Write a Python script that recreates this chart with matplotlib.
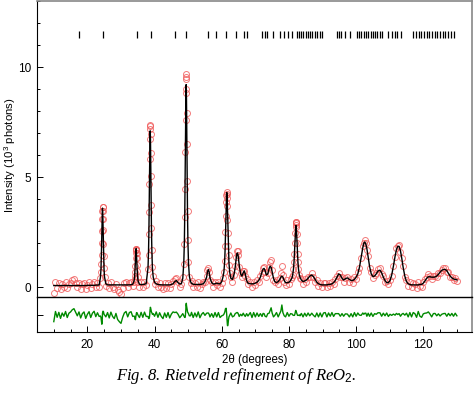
import matplotlib
matplotlib.use("Agg")
import matplotlib.pyplot as plt
import numpy as np

plt.rcParams['font.family'] = ['Liberation Sans', 'DejaVu Sans']
plt.rcParams['mathtext.fontset'] = 'custom'
plt.rcParams['mathtext.rm'] = 'Liberation Sans'
plt.rcParams['mathtext.it'] = 'Liberation Serif:italic'

# 2theta grid with observed / calculated intensity (10^3 photons), read off the figure
# each line of the three lists covers the same stretch of the pattern
two_theta = [
    10.0, 10.5, 11.0, 11.5, 12.0, 12.5, 13.0, 13.5, 14.0, 14.5, 15.0, 15.5, 16.0, 16.5,
    17.0, 17.5, 18.0, 18.5, 19.0, 19.5, 20.0, 20.5, 21.0, 21.5, 22.0, 22.5, 23.0, 23.5,
    23.9, 24.05, 24.15, 24.22, 24.3, 24.36, 24.42, 24.46, 24.5, 24.54, 24.58, 24.64, 24.7, 24.78, 24.85, 24.95, 25.1, 25.5,
    26.0, 26.5, 27.0, 27.5, 28.0, 28.5, 29.0, 29.5, 30.0, 30.5, 31.0, 31.5, 32.0, 32.5, 33.0, 33.5,
    33.9, 34.05, 34.15, 34.22, 34.3, 34.36, 34.42, 34.46, 34.5, 34.54, 34.58, 34.64, 34.7, 34.78, 34.85, 34.95, 35.1, 35.5,
    36.0, 36.5, 37.0, 37.5,
    38.05, 38.2, 38.32, 38.4, 38.48, 38.55, 38.61, 38.66, 38.7, 38.74, 38.79, 38.85, 38.92, 39.0, 39.08, 39.2, 39.35, 39.6, 40.0,
    40.5, 41.0, 41.5, 42.0, 42.5, 43.0, 43.5, 44.0, 44.5, 45.0, 45.5, 46.0, 46.5, 47.0, 47.5, 48.0, 48.4,
    48.7, 48.87, 48.99, 49.07, 49.16, 49.24, 49.31, 49.35, 49.4, 49.45, 49.5, 49.57, 49.64, 49.73, 49.81, 49.93, 50.1, 50.35, 50.7,
    51.0, 51.5, 52.0, 52.5, 53.0, 53.5, 54.0, 54.5, 55.0,
    55.5, 55.75, 56.0, 56.25, 56.5,
    57.0, 57.5, 58.0, 58.5, 59.0, 59.5, 60.0, 60.35,
    60.63, 60.85, 60.99, 61.09, 61.21, 61.3, 61.38, 61.44, 61.5, 61.56, 61.62, 61.7, 61.79, 61.91, 62.01, 62.15, 62.37,
    62.7, 63.2, 63.7, 64.0, 64.3, 64.5, 64.7, 64.9, 65.2, 65.6, 66.0, 66.4, 66.7, 67.0, 67.4, 67.8,
    68.5, 69.0, 69.5, 70.0, 70.5, 71.0, 71.5, 72.0, 72.3, 72.6, 72.9, 73.3, 73.7, 74.1, 74.4, 74.7,
    75.0, 75.4, 75.8, 76.3, 76.8, 77.3, 77.6, 77.9, 78.2, 78.6, 79.0, 79.5, 80.0, 80.5, 81.0,
    81.12, 81.36, 81.53, 81.64, 81.77, 81.87, 81.97, 82.03, 82.1, 82.17, 82.23, 82.33, 82.43, 82.56, 82.67, 82.84, 83.08,
    83.3, 83.7, 84.2, 84.7, 85.2, 85.7, 86.2, 86.8, 87.3, 87.8, 88.3, 88.8, 89.3, 89.8,
    90.3, 90.8, 91.3, 91.8, 92.3, 92.8, 93.3, 93.8, 94.3, 94.8, 95.3, 95.8, 96.3, 96.8, 97.4, 98.0,
    98.5, 99.0, 99.5, 100.0, 100.5, 101.0, 101.5, 102.0, 102.3, 102.6, 102.9, 103.2, 103.6, 104.0,
    104.5, 105.0, 105.5, 106.0, 106.5, 107.1, 107.6, 108.1, 108.6, 109.1, 109.6, 110.1, 110.6, 111.1,
    111.6, 112.0, 112.4, 112.8, 113.2, 113.6, 114.0, 114.5, 115.0, 115.5, 116.0, 116.5, 117.0, 117.5,
    118.0, 118.5, 119.0, 119.5, 120.0, 120.5, 121.0, 121.5, 122.0, 122.5, 123.0, 123.5, 124.0, 124.5,
    125.0, 125.5, 126.0, 126.5, 127.0, 127.5, 128.0, 128.5, 129.0, 129.5, 130.0,
]
observed = [
    -0.25, 0.22, -0.05, 0.18, -0.10, 0.15, 0.00, 0.22, -0.06, 0.14, 0.20, 0.30, 0.35, 0.18,
    0.02, 0.20, -0.08, 0.12, 0.20, -0.10, 0.10, 0.22, -0.05, 0.15, 0.24, 0.00, 0.18, 0.02,
    0.40, 0.70, 1.05, 1.45, 2.00, 2.55, 3.10, 3.45, 3.65, 3.62, 3.45, 3.10, 2.60, 1.95, 1.40, 0.85, 0.45, 0.05,
    0.20, -0.05, 0.22, 0.02, -0.08, 0.16, -0.12, -0.22, -0.30, -0.02, 0.18, 0.25, 0.00, 0.20, 0.25, 0.05,
    0.22, 0.35, 0.50, 0.70, 0.98, 1.30, 1.55, 1.68, 1.72, 1.74, 1.70, 1.55, 1.30, 1.00, 0.72, 0.48, 0.25, 0.00,
    0.22, 0.00, 0.25, 0.08,
    0.80, 1.45, 2.40, 3.40, 4.70, 5.80, 6.75, 7.20, 7.35, 7.30, 6.95, 6.10, 5.05, 3.75, 2.70, 1.70, 0.90, 0.50, 0.15,
    0.28, 0.00, 0.20, 0.02, -0.08, 0.18, -0.02, 0.20, -0.05, 0.15, 0.28, 0.35, 0.42, 0.22, 0.00, 0.12, 0.45,
    1.05, 1.95, 3.20, 4.45, 6.15, 7.60, 8.80, 9.45, 9.70, 9.55, 9.00, 7.90, 6.50, 4.80, 3.45, 2.15, 1.15, 0.45, 0.20,
    0.28, 0.00, 0.20, 0.02, 0.25, -0.02, 0.15, 0.25, 0.22,
    0.52, 0.78, 0.88, 0.70, 0.32,
    0.25, 0.02, 0.25, 0.08, 0.25, 0.02, 0.20, 0.42,
    0.70, 1.20, 1.85, 2.50, 3.25, 3.85, 4.20, 4.30, 4.25, 4.05, 3.70, 3.05, 2.45, 1.85, 1.45, 1.00, 0.65,
    0.48, 0.25, 0.55, 0.95, 1.38, 1.62, 1.65, 1.45, 0.92, 0.62, 0.45, 0.72, 0.72, 0.52, 0.35, 0.12,
    0.25, 0.02, 0.25, 0.08, 0.30, 0.22, 0.50, 0.62, 0.88, 0.90, 0.68, 0.45, 0.65, 0.92, 1.15, 1.22,
    0.78, 0.30, 0.22, 0.30, 0.15, 0.42, 0.62, 0.95, 0.55, 0.25, 0.10, 0.30, 0.15, 0.35, 0.48,
    0.55, 0.80, 1.15, 1.50, 2.00, 2.45, 2.80, 2.95, 2.97, 2.90, 2.75, 2.40, 2.00, 1.50, 1.15, 0.80, 0.55,
    0.40, 0.38, 0.15, 0.35, 0.25, 0.48, 0.45, 0.62, 0.45, 0.25, 0.30, 0.05, 0.20, 0.00,
    0.18, 0.20, 0.00, 0.20, 0.05, 0.25, 0.12, 0.35, 0.50, 0.65, 0.48, 0.45, 0.25, 0.42, 0.45, 0.25,
    0.35, 0.20, 0.45, 0.38, 0.68, 0.88, 1.32, 1.88, 2.02, 2.12, 2.02, 1.68, 1.42, 0.88,
    0.68, 0.40, 0.55, 0.62, 0.82, 0.86, 0.58, 0.52, 0.25, 0.28, 0.12, 0.32, 0.52, 0.98,
    1.38, 1.76, 1.86, 1.90, 1.58, 1.32, 0.96, 0.48, 0.32, 0.05, 0.22, 0.00, 0.20, 0.15,
    -0.02, 0.25, 0.05, 0.00, 0.22, 0.35, 0.48, 0.60, 0.50, 0.35, 0.50, 0.52, 0.45, 0.62,
    0.62, 0.78, 0.85, 0.86, 0.68, 0.68, 0.45, 0.48, 0.30, 0.42, 0.28,
]
calculated = [
    0.07, 0.07, 0.07, 0.07, 0.07, 0.07, 0.07, 0.07, 0.07, 0.07, 0.07, 0.07, 0.07, 0.07,
    0.07, 0.07, 0.07, 0.07, 0.07, 0.07, 0.08, 0.08, 0.08, 0.08, 0.08, 0.09, 0.09, 0.10,
    0.46, 0.83, 1.32, 1.81, 2.44, 2.94, 3.35, 3.52, 3.59, 3.52, 3.35, 2.94, 2.44, 1.81, 1.32, 0.83, 0.46, 0.15,
    0.10, 0.10, 0.10, 0.10, 0.10, 0.10, 0.10, 0.10, 0.10, 0.10, 0.10, 0.10, 0.10, 0.10, 0.11, 0.13,
    0.28, 0.45, 0.68, 0.91, 1.21, 1.45, 1.64, 1.72, 1.75, 1.72, 1.64, 1.45, 1.21, 0.91, 0.68, 0.45, 0.28, 0.13,
    0.11, 0.12, 0.13, 0.16,
    0.88, 1.61, 2.58, 3.56, 4.81, 5.81, 6.61, 6.96, 7.10, 6.96, 6.61, 5.81, 4.81, 3.56, 2.58, 1.61, 0.88, 0.45, 0.22,
    0.15, 0.12, 0.11, 0.10, 0.10, 0.10, 0.10, 0.10, 0.10, 0.12, 0.15, 0.25, 0.30, 0.20, 0.14, 0.16, 0.40,
    1.10, 2.05, 3.32, 4.58, 6.21, 7.53, 8.57, 9.02, 9.20, 9.02, 8.57, 7.53, 6.21, 4.58, 3.32, 2.05, 1.10, 0.50, 0.25,
    0.17, 0.13, 0.12, 0.12, 0.12, 0.12, 0.13, 0.15, 0.25,
    0.45, 0.70, 0.80, 0.68, 0.42,
    0.20, 0.14, 0.15, 0.18, 0.15, 0.15, 0.25, 0.45,
    0.68, 1.10, 1.67, 2.23, 2.96, 3.55, 4.02, 4.22, 4.30, 4.22, 4.02, 3.55, 2.96, 2.23, 1.67, 1.10, 0.68,
    0.40, 0.35, 0.60, 0.90, 1.30, 1.52, 1.55, 1.40, 1.00, 0.60, 0.50, 0.65, 0.74, 0.60, 0.30, 0.18,
    0.15, 0.15, 0.15, 0.18, 0.22, 0.30, 0.45, 0.70, 0.82, 0.85, 0.75, 0.55, 0.60, 0.85, 0.95, 0.90,
    0.70, 0.40, 0.25, 0.20, 0.25, 0.35, 0.45, 0.50, 0.45, 0.30, 0.20, 0.20, 0.22, 0.30, 0.45,
    0.56, 0.83, 1.18, 1.53, 1.98, 2.34, 2.63, 2.75, 2.80, 2.75, 2.63, 2.34, 1.98, 1.53, 1.18, 0.83, 0.56,
    0.45, 0.32, 0.25, 0.28, 0.32, 0.40, 0.50, 0.55, 0.48, 0.35, 0.22, 0.15, 0.12, 0.10,
    0.10, 0.10, 0.10, 0.12, 0.12, 0.15, 0.20, 0.30, 0.45, 0.60, 0.55, 0.40, 0.32, 0.38, 0.42, 0.35,
    0.30, 0.30, 0.35, 0.45, 0.60, 0.90, 1.35, 1.80, 2.00, 2.05, 1.95, 1.75, 1.35, 0.95,
    0.60, 0.48, 0.50, 0.60, 0.73, 0.77, 0.65, 0.45, 0.30, 0.20, 0.20, 0.30, 0.55, 0.95,
    1.40, 1.70, 1.85, 1.85, 1.65, 1.30, 0.90, 0.50, 0.25, 0.15, 0.12, 0.10, 0.10, 0.10,
    0.10, 0.10, 0.12, 0.12, 0.18, 0.28, 0.40, 0.47, 0.47, 0.45, 0.45, 0.46, 0.50, 0.58,
    0.68, 0.76, 0.80, 0.80, 0.75, 0.62, 0.50, 0.42, 0.37, 0.35, 0.33,
]
# Bragg reflection positions (tick row)
reflections = [
    17.4, 24.6, 34.8, 38.9, 46.2, 49.4, 55.9, 58.4, 61.4, 64.3, 66.6, 67.6,
    72.1, 72.8, 73.5, 75.2, 77.4, 78.6, 79.8, 81.0, 82.3, 83.0, 83.6, 84.3,
    85.0, 85.6, 86.3, 87.0, 87.7, 88.4, 89.2, 89.9, 94.2, 94.8, 95.5, 96.7,
    98.3, 100.2, 100.9, 101.6, 102.3, 103.0, 103.6, 104.3, 105.0, 105.6,
    106.3, 107.0, 107.7, 109.5, 110.7, 111.5, 112.3, 113.4, 117.0, 117.8,
    118.6, 119.4, 120.2, 121.0, 121.8, 122.6, 123.4, 124.2, 125.0, 125.8,
    126.6, 127.4, 128.2, 129.0,
]

tt = np.array(two_theta)
obs = np.array(observed)
calc = np.array(calculated)
assert len(tt) == len(obs) == len(calc)
diff = obs - calc

fig = plt.figure(figsize=(4.74, 3.95), dpi=100)
ax = fig.add_axes([37 / 474, 1 - 297 / 395, 435 / 474, 296 / 395])
axd = fig.add_axes([37 / 474, 1 - 332 / 395, 435 / 474, 35 / 395], sharex=ax)

ax.plot(tt, obs, 'o', ms=4.3, mfc='none', mec='#f05a5a', mew=0.7, alpha=0.8)
ax.plot(tt, calc, '-', color='black', lw=1.0)
ax.vlines(reflections, 11.33, 11.63, color='black', lw=0.9)
axd.plot(tt, diff, '-', color='#008a00', lw=1.0)

ax.set_xlim(5, 134.5)
ax.set_ylim(-0.45, 13.0)
axd.set_ylim(-0.8, 0.82)

ax.set_yticks([0, 5, 10])
ax.set_yticks(np.arange(0, 14, 1), minor=True)
axd.set_yticks([0])
axd.set_yticklabels([])
axd.set_xticks([20, 40, 60, 80, 100, 120])
axd.set_xticks(np.arange(5, 135, 5), minor=True)

for a in (ax, axd):
    a.tick_params(which='both', direction='in', labelsize=8.5, width=0.7)
    a.tick_params(which='major', length=4)
    a.tick_params(which='minor', length=2.5)
    a.spines['top'].set_color('#888888')
    a.spines['right'].set_color('#888888')
    a.spines['top'].set_linewidth(1.2)
    a.spines['right'].set_linewidth(1.2)
ax.tick_params(axis='x', which='both', bottom=False, labelbottom=False)
ax.tick_params(axis='y', pad=4)
axd.tick_params(axis='x', pad=5)
ax.spines['bottom'].set_visible(False)
axd.spines['top'].set_color('black')
axd.spines['top'].set_linewidth(1.0)

ax.set_ylabel('Intensity (10$^{\\mathrm{3}}$ photons)', fontsize=8.2)
ax.yaxis.set_label_coords(-19 / 435, 0.48)
axd.set_xlabel('2\u03b8 (degrees)', fontsize=8.3, labelpad=2)

fig.text(0.499, 1 - 376 / 395, 'Fig. 8. Rietveld refinement of ReO$_2$.',
         family='Liberation Serif', style='italic', fontsize=12, ha='center', va='center')

fig.savefig('out.png', dpi=100)
